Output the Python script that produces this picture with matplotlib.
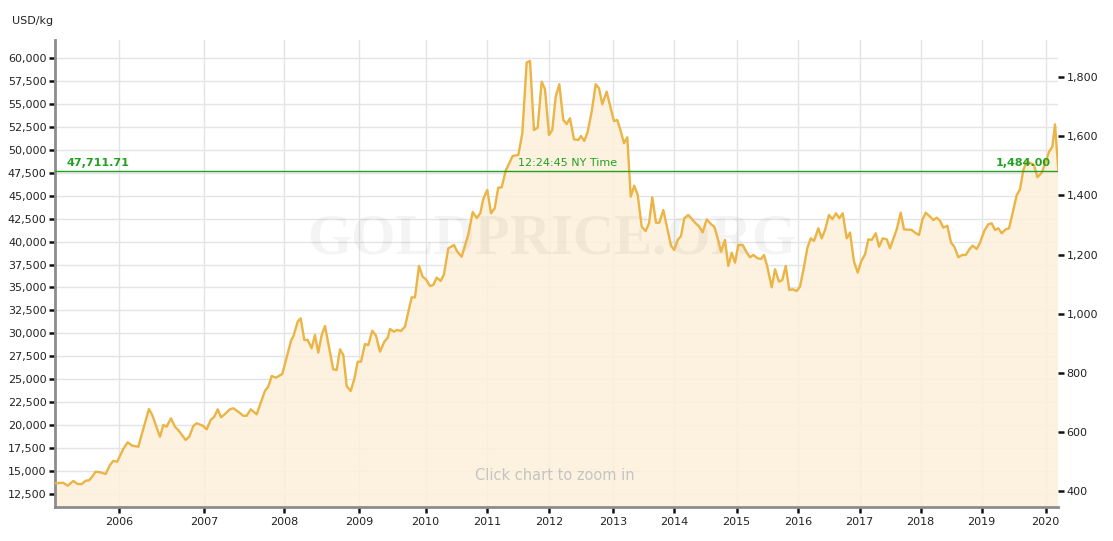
import numpy as np
import matplotlib.pyplot as plt

OZ_PER_KG = 32.1507

# gold price, decimal year -> USD per kg
years = [
    2005.244, 2005.341, 2005.393, 2005.459, 2005.511, 2005.558, 2005.605, 2005.647, 2005.682, 2005.722,
    2005.773, 2005.840, 2005.891, 2005.929, 2005.976, 2006.047, 2006.099, 2006.153, 2006.224, 2006.349,
    2006.388, 2006.479, 2006.518, 2006.558, 2006.608, 2006.655, 2006.694, 2006.781, 2006.824, 2006.871,
    2006.911, 2006.981, 2007.030, 2007.080, 2007.125, 2007.168, 2007.209, 2007.259, 2007.321, 2007.363,
    2007.425, 2007.488, 2007.530, 2007.580, 2007.655, 2007.759, 2007.800, 2007.843, 2007.896, 2007.975,
    2008.093, 2008.120, 2008.179, 2008.219, 2008.267, 2008.312, 2008.365, 2008.409, 2008.453, 2008.499,
    2008.543, 2008.653, 2008.699, 2008.743, 2008.787, 2008.832, 2008.885, 2008.933, 2008.979, 2009.026,
    2009.086, 2009.136, 2009.196, 2009.252, 2009.312, 2009.377, 2009.428, 2009.462, 2009.523, 2009.563,
    2009.628, 2009.688, 2009.789, 2009.839, 2009.899, 2009.955, 2010.005, 2010.070, 2010.123, 2010.179,
    2010.244, 2010.297, 2010.367, 2010.460, 2010.513, 2010.584, 2010.692, 2010.763, 2010.828, 2010.886,
    2010.935, 2011.000, 2011.060, 2011.119, 2011.177, 2011.232, 2011.297, 2011.410, 2011.500, 2011.565,
    2011.635, 2011.689, 2011.753, 2011.813, 2011.877, 2011.931, 2011.995, 2012.047, 2012.101, 2012.158,
    2012.221, 2012.274, 2012.326, 2012.390, 2012.457, 2012.500, 2012.552, 2012.606, 2012.669, 2012.732,
    2012.784, 2012.836, 2012.905, 2012.968, 2013.021, 2013.075, 2013.130, 2013.184, 2013.237, 2013.293,
    2013.351, 2013.407, 2013.472, 2013.537, 2013.590, 2013.644, 2013.704, 2013.758, 2013.823, 2013.948,
    2014.000, 2014.056, 2014.109, 2014.162, 2014.226, 2014.334, 2014.403, 2014.457, 2014.522, 2014.591,
    2014.644, 2014.698, 2014.751, 2014.815, 2014.868, 2014.923, 2014.976, 2015.029, 2015.101, 2015.167,
    2015.221, 2015.275, 2015.346, 2015.400, 2015.449, 2015.503, 2015.575, 2015.629, 2015.694, 2015.748,
    2015.804, 2015.863, 2015.918, 2015.984, 2016.037, 2016.102, 2016.155, 2016.210, 2016.264, 2016.333,
    2016.388, 2016.442, 2016.506, 2016.560, 2016.620, 2016.673, 2016.728, 2016.793, 2016.846, 2016.911,
    2016.971, 2017.025, 2017.090, 2017.144, 2017.199, 2017.265, 2017.319, 2017.379, 2017.444, 2017.498,
    2017.608, 2017.673, 2017.727, 2017.853, 2017.907, 2017.972, 2018.026, 2018.082, 2018.141, 2018.207,
    2018.262, 2018.316, 2018.370, 2018.436, 2018.497, 2018.551, 2018.616, 2018.682, 2018.738, 2018.797,
    2018.852, 2018.918, 2018.972, 2019.041, 2019.103, 2019.156, 2019.208, 2019.259, 2019.312, 2019.375,
    2019.427, 2019.547, 2019.598, 2019.650, 2019.703, 2019.770, 2019.817, 2019.869, 2019.938, 2020.000,
    2020.052, 2020.103, 2020.145, 2020.197,
]
usd_kg = [
    13700, 13760, 13440, 13950, 13620, 13620, 13980, 14030, 14420, 14960,
    14900, 14710, 15690, 16130, 16050, 17430, 18160, 17790, 17680, 21780,
    21130, 18770, 20040, 19860, 20770, 19860, 19500, 18410, 18770, 19930,
    20230, 19970, 19570, 20590, 20940, 21750, 20880, 21240, 21750, 21860,
    21490, 21050, 21050, 21750, 21200, 23770, 24210, 25370, 25190, 25590,
    29290, 29650, 31280, 31650, 29290, 29290, 28390, 29830, 27910, 29830,
    30810, 26100, 26030, 28280, 27660, 24280, 23740, 25010, 26930, 26930,
    28850, 28740, 30300, 29760, 28020, 29100, 29540, 30490, 30190, 30380,
    30270, 30740, 33930, 33930, 37340, 36170, 35890, 35160, 35270, 36070,
    35710, 36440, 39260, 39620, 38900, 38350, 40770, 43210, 42560, 43070,
    44630, 45610, 43070, 43620, 45860, 45900, 47710, 49310, 49410, 51780,
    59460, 59640, 52130, 52390, 57390, 56560, 51590, 52130, 55760, 57110,
    53220, 52790, 53410, 51120, 51050, 51480, 50940, 51950, 54130, 57110,
    56670, 54930, 56300, 54500, 53110, 53220, 52030, 50690, 51340, 44880,
    46070, 45060, 41610, 41150, 41980, 44810, 42050, 42050, 43430, 39550,
    39080, 40170, 40600, 42530, 42890, 42050, 41610, 41000, 42420, 41880,
    41610, 40350, 38900, 40170, 37340, 38790, 37700, 39620, 39620, 38790,
    38290, 38540, 38180, 38100, 38540, 37260, 35020, 36980, 35630, 35820,
    37340, 34730, 34800, 34620, 35090, 37260, 39260, 40350, 40060, 41440,
    40350, 41260, 42890, 42420, 43070, 42530, 43070, 40350, 40980, 37810,
    36610, 37810, 38610, 40240, 40170, 40900, 39440, 40350, 40240, 39260,
    41330, 43140, 41330, 41260, 40960, 40710, 42340, 43140, 42780, 42340,
    42590, 42270, 41510, 41720, 39870, 39440, 38290, 38540, 38540, 39160,
    39550, 39190, 39870, 41180, 41880, 41980, 41260, 41440, 40900, 41330,
    41440, 45060, 45680, 47780, 48690, 48510, 48330, 46990, 47490, 48690,
    49770, 50320, 52750, 47710,
]

spot_kg = 47711.71
spot_oz = 1484.00
spot_time = "12:24:45 NY Time"

kg_ticks = np.arange(12500, 60001, 2500)
oz_ticks = np.arange(400, 1801, 200)
year_ticks = list(range(2006, 2021))

# the site's time axis is not linear: width of each calendar year on screen
year_width = [85, 85, 80, 75, 66.4, 61.6, 62, 63.4, 61.5, 62.3, 61.2, 61.8, 61.2, 61, 64, 64]
anchor_years = np.arange(2005, 2022)
anchor_pos = np.concatenate([[0], np.cumsum(year_width)])


def fwd(x):
    return np.interp(x, anchor_years, anchor_pos)


def inv(p):
    return np.interp(p, anchor_pos, anchor_years)


line_col = '#ebb444'
fill_col = '#fdf0da'
green = '#22a022'

fig = plt.figure(figsize=(11.13, 5.41), dpi=100)
ax = fig.add_axes([0.0494, 0.0623, 0.9015, 0.8638])

ax.set_xscale('function', functions=(fwd, inv))
ax.set_xlim(years[0], years[-1])
ax.set_ylim(11090, 61925)

ax.grid(True, color='#e4e4e4', lw=1)
ax.set_axisbelow(True)

ax.fill_between(years, usd_kg, 0, color=fill_col, alpha=0.85, lw=0, zorder=1.5)
ax.plot(years, usd_kg, color=line_col, lw=1.7, zorder=3)

ax.text(0.4955, 0.572, 'GOLDPRICE.ORG', transform=ax.transAxes, ha='center', va='center',
        fontsize=41, fontweight='bold', family='Liberation Serif', color='#000000', alpha=0.045, zorder=2)
ax.text(0.4985, 0.067, 'Click chart to zoom in', transform=ax.transAxes, ha='center', va='center',
        fontsize=10.5, color='#c4c4c4', zorder=4)

ax.axhline(spot_kg, color=green, lw=1, zorder=4)
ax.annotate(f'{spot_kg:,.2f}', xy=(0.011, spot_kg), xycoords=('axes fraction', 'data'),
            xytext=(0, 2), textcoords='offset points', ha='left', va='bottom',
            fontsize=8, fontweight='bold', color=green, zorder=5)
ax.annotate(spot_time, xy=(0.511, spot_kg), xycoords=('axes fraction', 'data'),
            xytext=(0, 2), textcoords='offset points', ha='center', va='bottom',
            fontsize=8, color=green, zorder=5)
ax.annotate(f'{spot_oz:,.2f}', xy=(0.992, spot_kg), xycoords=('axes fraction', 'data'),
            xytext=(0, 2), textcoords='offset points', ha='right', va='bottom',
            fontsize=8, fontweight='bold', color=green, zorder=5)

ax.set_yticks(kg_ticks)
ax.set_yticklabels([f'{v:,}' for v in kg_ticks])
ax.set_xticks(year_ticks)
ax.set_xticklabels([str(y) for y in year_ticks])
ax.minorticks_off()

for side in ['top', 'right']:
    ax.spines[side].set_visible(False)
for side in ['left', 'bottom']:
    ax.spines[side].set_color('#8c8c8c')
    ax.spines[side].set_linewidth(2)

ax.tick_params(axis='y', length=4, width=1.8, color='#111111', labelsize=8, labelcolor='#222222', pad=2)
ax.tick_params(axis='x', length=4, width=1.8, color='#111111', labelsize=8, labelcolor='#222222', pad=3)

sec = ax.secondary_yaxis('right', functions=(lambda v: v / OZ_PER_KG, lambda v: v * OZ_PER_KG))
sec.set_yticks(oz_ticks)
sec.set_yticklabels([f'{v:,}' for v in oz_ticks])
sec.spines['right'].set_visible(False)
sec.tick_params(length=4, width=1.8, color='#111111', labelsize=8, labelcolor='#222222', pad=2)

fig.text(0.0108, 0.961, 'USD/kg', ha='left', va='center', fontsize=8, color='#222222')

fig.savefig('out.png', dpi=100)
